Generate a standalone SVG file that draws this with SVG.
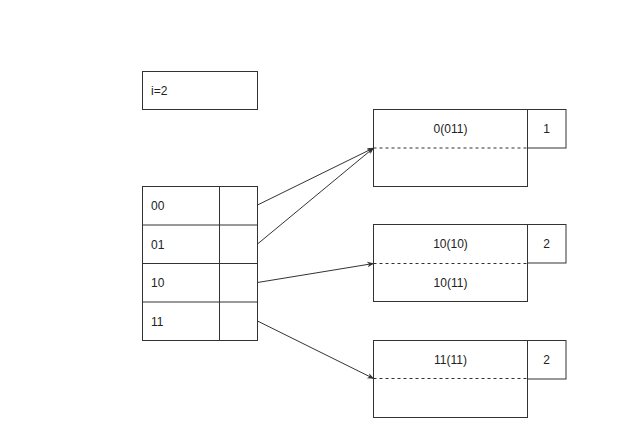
<svg xmlns="http://www.w3.org/2000/svg" width="624" height="446" viewBox="0 0 624 446">
<style>
.box{fill:#fff;stroke:#333;stroke-width:1}
.dash{stroke:#333;stroke-width:1;stroke-dasharray:3,3;fill:none}
.t{font-family:"Liberation Sans",Arial,sans-serif;font-size:12px;fill:#222}
.c{text-anchor:middle}
.edge{stroke:#333;stroke-width:1;fill:none;marker-end:url(#arr)}
</style>
<defs>
<marker id="arr" viewBox="0 0 10 10" refX="9" refY="5" markerWidth="7" markerHeight="7" orient="auto" markerUnits="userSpaceOnUse">
<path d="M0,1 L10,5 L0,9 L3,5 Z" fill="#333"/>
</marker>
</defs>
<rect width="624" height="446" fill="#fff"/>
<g id="global-depth">
<rect class="box" x="142.5" y="71.5" width="115" height="38"/>
<text class="t" x="151" y="94.5">i=2</text>
</g>
<g id="directory">
<rect class="box" x="142.5" y="186.5" width="115" height="154"/>
<line x1="219.5" y1="186.5" x2="219.5" y2="340.5" stroke="#333"/>
<line x1="142.5" y1="225" x2="257.5" y2="225" stroke="#333"/>
<line x1="142.5" y1="263.5" x2="257.5" y2="263.5" stroke="#333"/>
<line x1="142.5" y1="302" x2="257.5" y2="302" stroke="#333"/>
<text class="t" x="151" y="210">00</text>
<text class="t" x="151" y="248.5">01</text>
<text class="t" x="151" y="287">10</text>
<text class="t" x="151" y="325.5">11</text>
</g>
<g id="bucket1">
<rect class="box" x="373.5" y="109.5" width="154" height="77"/>
<rect class="box" x="527.5" y="109.5" width="38.5" height="38.5"/>
<line class="dash" x1="373.5" y1="148" x2="527.5" y2="148"/>
<text class="t c" x="450.5" y="133">0(011)</text>
<text class="t c" x="546.5" y="133">1</text>
</g>
<g id="bucket2">
<rect class="box" x="373.5" y="224.5" width="154" height="77"/>
<rect class="box" x="527.5" y="224.5" width="38.5" height="38.5"/>
<line class="dash" x1="373.5" y1="263.5" x2="527.5" y2="263.5"/>
<text class="t c" x="450.5" y="248">10(10)</text>
<text class="t c" x="450.5" y="286.5">10(11)</text>
<text class="t c" x="546.5" y="248">2</text>
</g>
<g id="bucket3">
<rect class="box" x="373.5" y="340.5" width="154" height="77"/>
<rect class="box" x="527.5" y="340.5" width="38.5" height="38.5"/>
<line class="dash" x1="373.5" y1="378.5" x2="527.5" y2="378.5"/>
<text class="t c" x="450.5" y="364">11(11)</text>
<text class="t c" x="546.5" y="364">2</text>
</g>
<g id="connectors">
<line class="edge" x1="257.5" y1="205" x2="373.5" y2="148"/>
<line class="edge" x1="257.5" y1="244" x2="373.5" y2="148"/>
<line class="edge" x1="257.5" y1="282.5" x2="373.5" y2="263.5"/>
<line class="edge" x1="257.5" y1="321" x2="373.5" y2="378.5"/>
</g>
</svg>
